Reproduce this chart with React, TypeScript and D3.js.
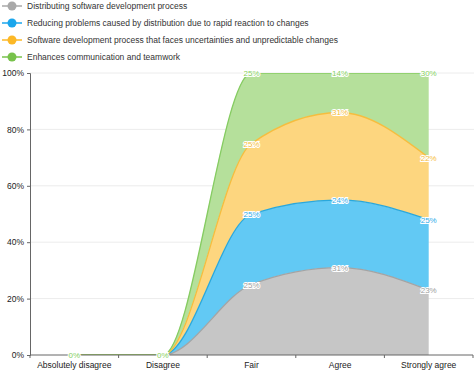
import React, { useEffect, useRef } from 'react';
import * as d3 from 'd3';

// answers per category, in percent
const categories = ['Absolutely disagree', 'Disagree', 'Fair', 'Agree', 'Strongly agree'];
const seriesNames = [
  'Distributing software development process',
  'Reducing problems caused by distribution due to rapid reaction to changes',
  'Software development process that faces uncertainties and unpredictable changes',
  'Enhances communication and teamwork',
];
const distributing = [0, 0, 25, 31, 23];
const reducing = [0, 0, 25, 24, 25];
const uncertain = [0, 0, 25, 31, 22];
const teamwork = [0, 0, 25, 14, 30];
const yTicks = [0, 20, 40, 60, 80, 100];

const fills = ['#c6c6c6', '#62c9f4', '#fdd67f', '#b5e09b'];
const lines = ['#a4a4a4', '#2aa8dc', '#f6bd3e', '#86cc62'];
const markers = ['#a9a9a9', '#1ba6ec', '#fcb827', '#78c24b'];
const labelColors = ['#a0a0a0', '#30acea', '#f6bd3a', '#86cf5e'];

const W = 474;
const H = 373;
const FONT = 'Liberation Sans, Arial, sans-serif';

const App = () => {
  const ref = useRef<SVGSVGElement>(null);

  useEffect(() => {
    const svg = d3.select(ref.current);
    svg.selectAll('*').remove();

    const left = 30, right = 473, top = 73, bottom = 355;
    const x = d3.scaleBand().domain(categories).range([left, right]);
    const cx = (c: string) => (x(c) as number) + x.bandwidth() / 2;
    const y = d3.scaleLinear().domain([0, 100]).range([bottom, top]);

    const rows = categories.map((c, i) => ({
      cat: c, s0: distributing[i], s1: reducing[i], s2: uncertain[i], s3: teamwork[i],
    }));
    const stacked = d3.stack<any>().keys(['s0', 's1', 's2', 's3'])(rows);

    // grid
    svg.append('g').selectAll('line').data(yTicks.slice(1)).join('line')
      .attr('x1', left).attr('x2', W).attr('y1', d => y(d)).attr('y2', d => y(d))
      .attr('stroke', '#ececec').attr('stroke-width', 1);

    svg.append('clipPath').attr('id', 'plotclip').append('rect')
      .attr('x', left).attr('y', top).attr('width', right - left).attr('height', bottom - top);

    const area = d3.area<any>()
      .x(d => cx(d.data.cat)).y0(d => y(d[0])).y1(d => y(d[1]))
      .curve(d3.curveMonotoneX);
    const topLine = d3.line<any>()
      .x(d => cx(d.data.cat)).y(d => y(d[1]))
      .curve(d3.curveMonotoneX);

    const plot = svg.append('g').attr('clip-path', 'url(#plotclip)');
    stacked.forEach((layer, i) => {
      plot.append('path').attr('d', area(layer) as string).attr('fill', fills[i]);
    });
    stacked.forEach((layer, i) => {
      plot.append('path').attr('d', topLine(layer) as string)
        .attr('fill', 'none').attr('stroke', lines[i]).attr('stroke-width', 1.3);
    });

    // axes
    const yAxis = d3.axisLeft(y).tickValues(yTicks).tickFormat(d => `${d}%`).tickSize(3).tickPadding(3);
    const ya = svg.append('g').attr('transform', `translate(${left},0)`).call(yAxis);
    ya.select('.domain').attr('stroke', '#666');
    ya.selectAll('line').attr('stroke', '#666');
    ya.selectAll('text').attr('font-size', 8.5).attr('fill', '#222').attr('font-family', FONT);

    const xa = svg.append('g').attr('transform', `translate(0,${bottom})`);
    xa.append('line').attr('x1', left).attr('x2', right).attr('stroke', '#666');
    xa.selectAll('line.tk').data(d3.range(categories.length + 1)).join('line').attr('class', 'tk')
      .attr('x1', i => left + i * x.step()).attr('x2', i => left + i * x.step())
      .attr('y1', 0).attr('y2', 3).attr('stroke', '#666');
    xa.selectAll('text').data(categories).join('text')
      .attr('x', d => cx(d)).attr('y', 13).attr('text-anchor', 'middle')
      .attr('font-size', 8.5).attr('fill', '#222').attr('font-family', FONT)
      .text(d => d);

    // data labels
    const values = [distributing, reducing, uncertain, teamwork];
    stacked.forEach((layer, i) => {
      svg.append('g').selectAll('text').data(layer).join('text')
        .filter((d: any) => values[i][categories.indexOf(d.data.cat)] > 0 || i === 3)
        .attr('x', (d: any) => cx(d.data.cat)).attr('y', (d: any) => y(d[1]) + 3)
        .attr('text-anchor', 'middle').attr('font-size', 8)
        .attr('font-family', FONT)
        .attr('fill', labelColors[i]).attr('stroke', '#fff').attr('stroke-width', 2)
        .attr('paint-order', 'stroke')
        .text((d: any) => `${values[i][categories.indexOf(d.data.cat)]}%`);
    });

    // legend
    const lg = svg.append('g').selectAll('g').data(seriesNames).join('g')
      .attr('transform', (d, i) => `translate(0,${6 + i * 17})`);
    lg.append('line').attr('x1', 2).attr('x2', 22).attr('stroke', (d, i) => markers[i]).attr('stroke-width', 1.5);
    lg.append('circle').attr('cx', 12).attr('r', 4.5).attr('fill', (d, i) => markers[i]);
    lg.append('text').attr('x', 27).attr('y', 3).attr('font-size', 8.5).attr('fill', '#333')
      .attr('font-family', FONT).text(d => d);
  }, []);

  return (
    <svg ref={ref} width={W} height={H} style={{ position: 'absolute', left: 0, top: 0, background: '#fff' }} />
  );
};

export default App;
